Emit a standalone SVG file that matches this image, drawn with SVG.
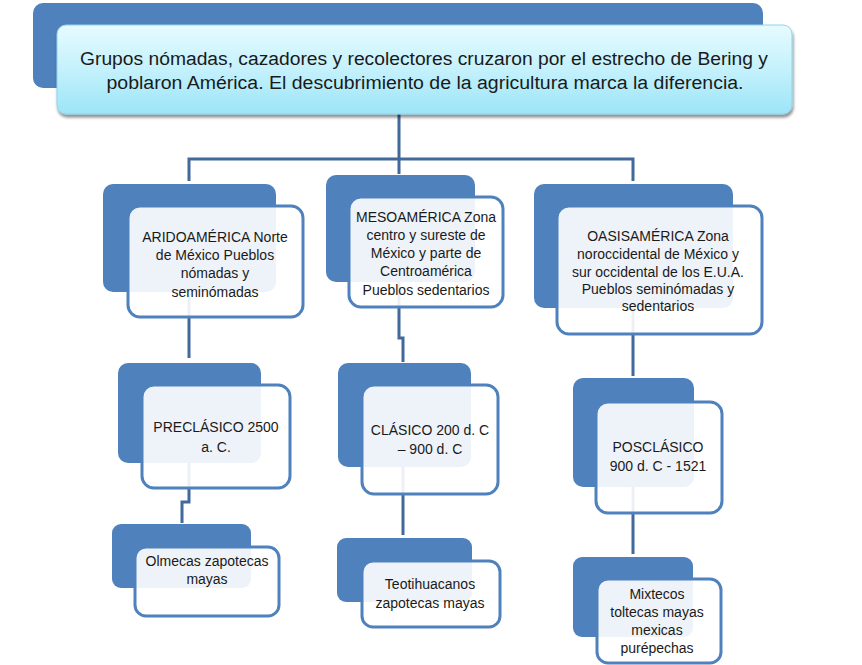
<svg xmlns="http://www.w3.org/2000/svg" width="862" height="665" viewBox="0 0 862 665">
<defs>
<linearGradient id="cyan" x1="0" y1="0" x2="0" y2="1">
<stop offset="0" stop-color="#e6fbff"/>
<stop offset="0.5" stop-color="#c4f1fc"/>
<stop offset="1" stop-color="#9be5f8"/>
</linearGradient>
<filter id="sh" x="-5%" y="-10%" width="110%" height="130%">
<feGaussianBlur in="SourceAlpha" stdDeviation="1.5"/>
<feOffset dx="1" dy="3" result="b"/>
<feComponentTransfer><feFuncA type="linear" slope="0.45"/></feComponentTransfer>
<feMerge><feMergeNode/><feMergeNode in="SourceGraphic"/></feMerge>
</filter>
</defs>
<style>
.back{fill:#4f81bd;}
.front{fill:#ffffff;fill-opacity:0.9;stroke:#4f81bd;stroke-width:3;}
.conn{fill:none;stroke:#41699b;stroke-width:3;}
text{font-family:"Liberation Sans",Arial,sans-serif;fill:#1a1a1a;text-anchor:middle;}
.t{font-size:14px;}
.big{font-size:18px;}
</style>
<rect width="862" height="665" fill="#ffffff"/>
<g id="connectors">
<path class="conn" d="M399,113 V159 M399,150 V174"/>
<path class="conn" d="M189,181 V159 H633 V181"/>
<path class="conn" d="M189,290 V358"/>
<path class="conn" d="M189,460 V502 H182 V523"/>
<path class="conn" d="M399,280 V338 H403 V362"/>
<path class="conn" d="M403,465 V535"/>
<path class="conn" d="M633,305 V376"/>
<path class="conn" d="M633,485 V554"/>
</g>
<g id="top">
<rect class="back" x="33" y="3" width="730" height="85" rx="10"/>
<rect x="57" y="25" width="735" height="89" rx="9" fill="url(#cyan)" stroke="#8fd3e8" stroke-width="1" filter="url(#sh)"/>
<text class="big" x="424" y="65" textLength="688" lengthAdjust="spacingAndGlyphs">Grupos nómadas, cazadores y recolectores cruzaron por el estrecho de Bering y</text>
<text class="big" x="425" y="89" textLength="637" lengthAdjust="spacingAndGlyphs">poblaron América. El descubrimiento de la agricultura marca la diferencia.</text>
</g>
<g id="aridoamerica">
<rect class="back" x="103" y="184" width="173" height="108" rx="10"/>
<rect class="front" x="128" y="206" width="175" height="111" rx="12"/>
<text class="t" x="215" y="242">ARIDOAMÉRICA Norte</text>
<text class="t" x="215" y="260">de México Pueblos</text>
<text class="t" x="215" y="278">nómadas y</text>
<text class="t" x="215" y="297">seminómadas</text>
</g>
<g id="mesoamerica">
<rect class="back" x="326" y="175" width="149" height="107" rx="10"/>
<rect class="front" x="349" y="197" width="154" height="110" rx="12"/>
<text class="t" x="426" y="222">MESOAMÉRICA Zona</text>
<text class="t" x="426" y="240">centro y sureste de</text>
<text class="t" x="426" y="258">México y parte de</text>
<text class="t" x="426" y="276">Centroamérica</text>
<text class="t" x="426" y="295">Pueblos  sedentarios</text>
</g>
<g id="oasisamerica">
<rect class="back" x="534" y="184" width="199" height="124" rx="10"/>
<rect class="front" x="557" y="206" width="205" height="128" rx="12"/>
<text class="t" x="658" y="241">OASISAMÉRICA Zona</text>
<text class="t" x="658" y="259">noroccidental  de México y</text>
<text class="t" x="658" y="277">sur occidental de los E.U.A.</text>
<text class="t" x="658" y="294">Pueblos  seminómadas y</text>
<text class="t" x="658" y="311">sedentarios</text>
</g>
<g id="preclasico">
<rect class="back" x="118" y="363" width="143" height="100" rx="10"/>
<rect class="front" x="142" y="385" width="148" height="103" rx="12"/>
<text class="t" x="216" y="432">PRECLÁSICO 2500</text>
<text class="t" x="216" y="452">a. C.</text>
</g>
<g id="clasico">
<rect class="back" x="338" y="363" width="133" height="104" rx="10"/>
<rect class="front" x="362" y="385" width="136" height="109" rx="12"/>
<text class="t" x="430" y="435">CLÁSICO 200 d. C</text>
<text class="t" x="430" y="454">– 900 d. C</text>
</g>
<g id="posclasico">
<rect class="back" x="573" y="378" width="121" height="109" rx="10"/>
<rect class="front" x="596" y="402" width="126" height="111" rx="12"/>
<text class="t" x="658" y="452">POSCLÁSICO</text>
<text class="t" x="658" y="471">900 d. C - 1521</text>
</g>
<g id="olmecas">
<rect class="back" x="112" y="524" width="139" height="64" rx="9"/>
<rect class="front" x="135" y="547" width="144" height="69" rx="11"/>
<text class="t" x="207" y="566">Olmecas zapotecas</text>
<text class="t" x="207" y="584">mayas</text>
</g>
<g id="teotihuacanos">
<rect class="back" x="337" y="538" width="135" height="64" rx="9"/>
<rect class="front" x="362" y="561" width="138" height="66" rx="11"/>
<text class="t" x="430" y="589">Teotihuacanos</text>
<text class="t" x="430" y="608">zapotecas mayas</text>
</g>
<g id="mixtecos">
<rect class="back" x="573" y="557" width="120" height="80" rx="9"/>
<rect class="front" x="597" y="579" width="124" height="84" rx="11"/>
<text class="t" x="657" y="599">Mixtecos</text>
<text class="t" x="657" y="617">toltecas mayas</text>
<text class="t" x="657" y="635">mexicas</text>
<text class="t" x="657" y="653">purépechas</text>
</g>
</svg>
